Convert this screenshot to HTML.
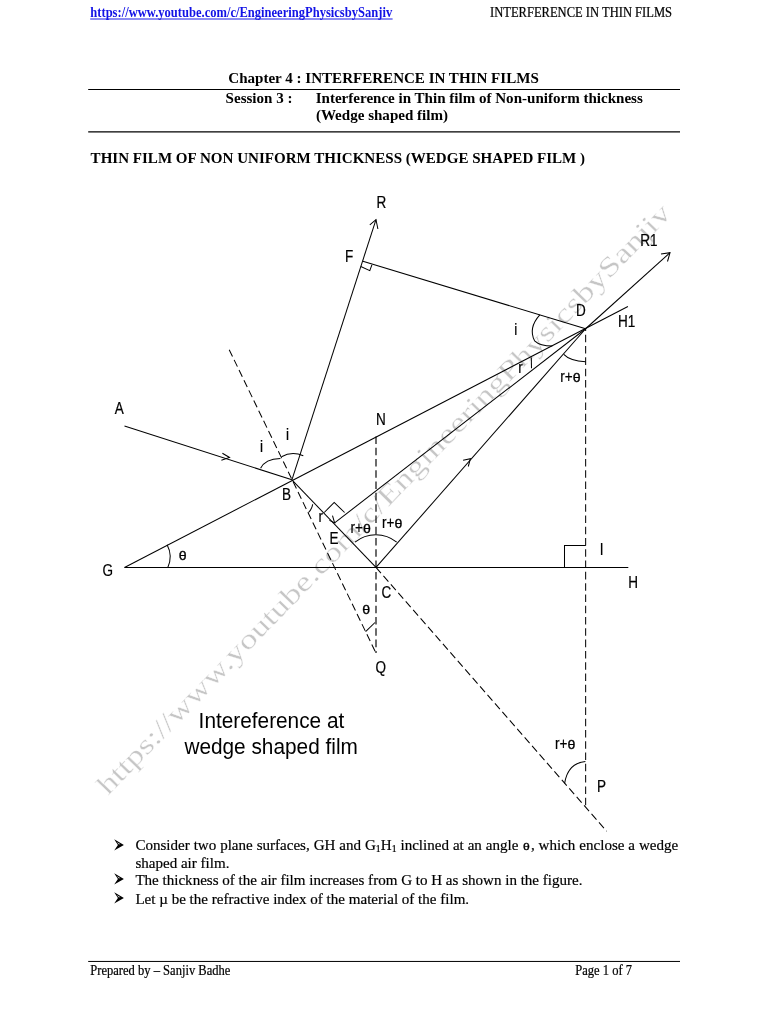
<!DOCTYPE html>
<html lang="en">
<head>
<meta charset="utf-8">
<title>Interference in Thin Films</title>
<style>
html,body{margin:0;padding:0;background:#fff;}
body{width:768px;height:1024px;position:relative;overflow:hidden;font-family:"Liberation Serif",serif;color:#000;}
.t{position:absolute;white-space:pre;line-height:1;margin:0;}
.b{font-weight:bold;}
.h10{font-size:12.55px;transform:scaleY(1.17);transform-origin:0 78%;}
.h12{font-size:15.06px;}
.rg{-webkit-text-stroke:0.2px #000;}
.lnk{color:#1212e6;text-decoration:none;}
#wrap{position:absolute;left:0;top:0;width:768px;height:1024px;will-change:transform;}
.bul{position:absolute;width:10px;height:12px;}
svg{position:absolute;left:0;top:0;}
sub{font-size:9.8px;vertical-align:baseline;position:relative;top:2px;line-height:0;}
.th{display:inline-block;width:8.6px;text-align:center;font-size:10.8px;transform:scaleX(1.3);-webkit-text-stroke:0.3px #000;}
</style>
</head>
<body>
<div id="wrap">
<!-- header -->
<div class="t b h10" id="hl" style="left:90.3px;top:6.5px;"><span class="lnk">https://www.youtube.com/c/EngineeringPhysicsbySanjiv</span></div>
<div class="t h10 rg" id="hr" style="left:490px;top:6.6px;">INTERFERENCE IN THIN FILMS</div>

<div class="t b h12" id="ch" style="left:228.3px;top:71.4px;">Chapter 4 : INTERFERENCE IN THIN FILMS</div>
<div class="t b h12" id="s3" style="left:225.6px;top:91px;">Session 3 :</div>
<div class="t b h12" id="s3a" style="left:315.7px;top:90.7px;">Interference in Thin film of Non-uniform thickness</div>
<div class="t b h12" id="s3b" style="left:315.9px;top:108.3px;">(Wedge shaped film)</div>
<div class="t b h12" id="tt" style="left:90.6px;top:151.2px;">THIN FILM OF NON UNIFORM THICKNESS (WEDGE SHAPED FILM )</div>

<!-- diagram -->
<svg width="768" height="1024" viewBox="0 0 768 1024">
  <text id="wm" transform="translate(108,795.9) rotate(-45.85) scale(1.291,1)" font-family="Liberation Serif, serif" font-size="27.5" fill="#c6c6c6" stroke="#fff" stroke-width="0.35">https://www.youtube.com/c/EngineeringPhysicsbySanjiv</text>
  <line x1="90.2" y1="19.05" x2="392.6" y2="19.05" stroke="#1a1ae8" stroke-width="1.1"/>
  <g stroke="#000" fill="none">
    <line x1="88.2" y1="89.5" x2="680" y2="89.5" stroke-width="1"/>
    <line x1="88.2" y1="131.8" x2="680" y2="131.8" stroke-width="1.15"/>
    <line x1="88.2" y1="961.45" x2="680" y2="961.45" stroke-width="1"/>
  </g>
  <g fill="none" stroke="#000" stroke-width="1.02" stroke-linecap="butt">
    <line x1="124.5" y1="567.45" x2="628.3" y2="567.45"/>
    <line x1="124.5" y1="567.45" x2="627.9" y2="306.5"/>
    <line x1="124.5" y1="426.1" x2="291.9" y2="479.8"/>
    <polyline points="222.4,453.3 229.5,457.5 221.4,460.3"/>
    <line x1="291.9" y1="479.8" x2="376.0" y2="219.6"/>
    <polyline points="369.8,224.8 376,219.6 377.9,229"/>
    <line x1="362.9" y1="261.3" x2="585.6" y2="328.75"/>
    <polyline points="360.8,266.5 369.8,270.6 371.9,264.8"/>
    <line x1="291.9" y1="479.8" x2="376.0" y2="567.45"/>
    <polyline points="329.4,520.4 334.6,522.9 332.5,515.6"/>
    <line x1="334.6" y1="522.9" x2="585.6" y2="328.75"/>
    <polyline points="324.2,512.5 334.2,502.5 344.6,512.5"/>
    <line x1="376.0" y1="567.45" x2="585.6" y2="328.75"/>
    <line x1="585.6" y1="328.75" x2="670.0" y2="252.7"/>
    <polyline points="463.1,460.2 470.4,458.75 468.3,466.5"/>
    <polyline points="661,254 670,252.7 667.5,261.5"/>
    <polyline points="564.5,567.45 564.5,545.4 585.8,545.4"/>
    <path d="M167.8,567.45 Q173,556 167.1,544.8"/>
    <path d="M260.6,468.3 Q265,459 280.4,458.5"/>
    <path d="M281.5,456.7 Q292,451 303.3,455.8"/>
    <path d="M308.5,512.5 Q312,509 312.7,504.2"/>
    <path d="M355,542.2 A33,33 0 0 1 396.7,542.2"/>
    <path d="M365.6,631.7 L375,622.5"/>
    <path d="M539.8,314.8 Q528,328 534.6,340.8 Q540,346 552.3,346"/>
    <path d="M563.75,354.4 Q570,361 585.6,361.7"/>
    <path d="M531.3,357.6 L531.5,368.2"/>
    <path d="M585.4,761.5 Q568,763 564.6,783.3"/>
  </g>
  <g fill="none" stroke="#000" stroke-width="1.02" stroke-dasharray="7.53 3.76">
    <line x1="229.2" y1="349.7" x2="376.0" y2="653.1"/>
    <line x1="376" y1="436.4" x2="376" y2="653.1" stroke-width="1.15"/>
    <line x1="585.65" y1="805.2" x2="585.65" y2="328.75"/>
    <line x1="376.0" y1="567.45" x2="606.7" y2="831.25"/>
  </g>
  <g font-family="Liberation Sans, sans-serif" font-size="13.8" fill="#000" stroke="#000" stroke-width="0.2">
    <text transform="translate(376.5 207.5) scale(0.98 1.17)">R</text>
    <text transform="translate(345 262.3) scale(0.98 1.17)">F</text>
    <text transform="translate(640.3 246) scale(0.98 1.17)">R1</text>
    <text transform="translate(576 316.25) scale(0.98 1.17)">D</text>
    <text transform="translate(618 326.7) scale(0.98 1.17)">H1</text>
    <text transform="translate(114.7 414) scale(0.98 1.17)">A</text>
    <text transform="translate(102.5 576) scale(0.98 1.17)">G</text>
    <text transform="translate(282 500.4) scale(0.98 1.17)">B</text>
    <text transform="translate(329.5 543.75) scale(0.98 1.17)">E</text>
    <text transform="translate(376 424.6) scale(0.98 1.17)">N</text>
    <text transform="translate(381.4 598) scale(0.98 1.17)">C</text>
    <text transform="translate(375.5 672.5) scale(0.98 1.17)">Q</text>
    <text transform="translate(599.7 554.8) scale(0.98 1.17)">I</text>
    <text transform="translate(628.3 587.8) scale(0.98 1.17)">H</text>
    <text transform="translate(597 791.7) scale(0.98 1.17)">P</text>
    <text transform="translate(260 452) scale(0.98 1.17)">i</text>
    <text transform="translate(286 440.2) scale(0.98 1.17)">i</text>
    <text transform="translate(514.3 335) scale(0.98 1.17)">i</text>
    <text transform="translate(318.5 521.9) scale(0.98 1.17)">r</text>
    <text transform="translate(518.3 373) scale(0.98 1.17)">r</text>
    <text transform="translate(350.5 532.7) scale(0.98 1.17)">r+</text>
    <text transform="translate(362.90 532.7) scale(1.16 1.0)" font-size="12.2" stroke-width="0.3">θ</text>
    <text transform="translate(382 527.5) scale(0.98 1.17)">r+</text>
    <text transform="translate(394.40 527.5) scale(1.16 1.0)" font-size="12.2" stroke-width="0.3">θ</text>
    <text transform="translate(560.3 382) scale(0.98 1.17)">r+</text>
    <text transform="translate(572.70 382) scale(1.16 1.0)" font-size="12.2" stroke-width="0.3">θ</text>
    <text transform="translate(555 749) scale(0.98 1.17)">r+</text>
    <text transform="translate(567.40 749) scale(1.16 1.0)" font-size="12.2" stroke-width="0.3">θ</text>
    <text transform="translate(362.30 614.2) scale(1.16 1.0)" font-size="12.2" stroke-width="0.3">θ</text>
    <text transform="translate(178.70 559.7) scale(1.16 1.0)" font-size="12.2" stroke-width="0.3">θ</text>
  </g>
  <g font-family="Liberation Sans, sans-serif" font-size="20.8" fill="#000">
    <text id="cap1" transform="translate(198.6 727.7) scale(1 1.04)">Intereference at</text>
    <text id="cap2" transform="translate(184.4 753.8) scale(1 1.04)">wedge shaped film</text>
  </g>
</svg>

<!-- bullets -->
<svg class="bul" style="left:114px;top:838.5px" width="10" height="12" viewBox="0 0 10 12"><path d="M0.2,0.3 L9.9,5.9 L0.2,11.5 L3.9,5.9 Z" fill="#000"/><path d="M2.7,3.1 L6.4,5.3 L4.7,5.3 Z" fill="#fff"/></svg>
<div class="t h12 rg" id="b1" style="left:135.4px;top:838px;word-spacing:0.17px;">Consider two plane surfaces, GH and G<sub>1</sub>H<sub>1</sub> inclined at an angle <span class="th">θ</span>, which enclose a wedge</div>
<div class="t h12 rg" id="b1b" style="left:135.4px;top:855.6px;">shaped air film.</div>
<svg class="bul" style="left:114px;top:873.4px" width="10" height="12" viewBox="0 0 10 12"><path d="M0.2,0.3 L9.9,5.9 L0.2,11.5 L3.9,5.9 Z" fill="#000"/><path d="M2.7,3.1 L6.4,5.3 L4.7,5.3 Z" fill="#fff"/></svg>
<div class="t h12 rg" id="b2" style="left:135.4px;top:873px;">The thickness of the air film increases from G to H as shown in the figure.</div>
<svg class="bul" style="left:114px;top:891.9px" width="10" height="12" viewBox="0 0 10 12"><path d="M0.2,0.3 L9.9,5.9 L0.2,11.5 L3.9,5.9 Z" fill="#000"/><path d="M2.7,3.1 L6.4,5.3 L4.7,5.3 Z" fill="#fff"/></svg>
<div class="t h12 rg" id="b3" style="left:135.4px;top:892.3px;">Let µ be the refractive index of the material of the film.</div>

<!-- footer -->
<div class="t h10 rg" id="f1" style="left:90.3px;top:964.5px;">Prepared by – Sanjiv Badhe</div>
<div class="t h10 rg" id="f2" style="left:575.3px;top:964.5px;">Page 1 of 7</div>
</div>
</body>
</html>
